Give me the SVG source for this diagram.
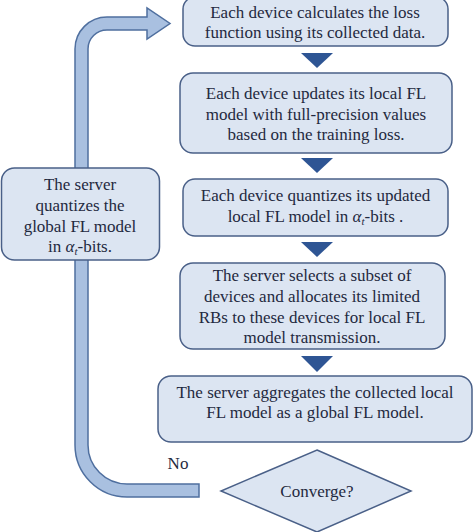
<svg xmlns="http://www.w3.org/2000/svg" width="474" height="532" viewBox="0 0 474 532">
<style>
.box{fill:#dce5f2;stroke:#4a6088;stroke-width:1.5}
.tri{fill:#2e5594}
.t{font-family:"Liberation Serif","DejaVu Serif",serif;font-size:17px;fill:#1f2940;text-anchor:middle}
.loop{fill:#a9c0e0;stroke:#4f6f9f;stroke-width:1.5}
</style>
<rect width="474" height="532" fill="#ffffff"/>
<g id="connectors">
<path class="loop" d="M199 484 L127 484 A39 39 0 0 1 88 445 L88 49 A19 19 0 0 1 107 30 L147 30 L147 39 L170 23.5 L147 8 L147 17 L107 17 A32 32 0 0 0 75 49 L75 445 A52 52 0 0 0 127 497 L199 497 Z"/>
<polygon class="tri" points="301,53 333,53 317,68"/>
<polygon class="tri" points="301,158 333,158 317,173"/>
<polygon class="tri" points="301,242 333,242 317,257"/>
<polygon class="tri" points="301,356 333,356 317,372"/>
<text class="t" x="178" y="469">No</text>
</g>
<g id="n1">
<rect class="box" x="183" y="-3" width="265" height="49" rx="12"/>
<text class="t" x="315" y="18">Each device calculates the loss</text>
<text class="t" x="315" y="38">function using its collected data.</text>
</g>
<g id="n2">
<rect class="box" x="180" y="73" width="272" height="80" rx="13"/>
<text class="t" x="316" y="99">Each device updates its local FL</text>
<text class="t" x="316" y="119.5">model with full-precision values</text>
<text class="t" x="316" y="140">based on the training loss.</text>
</g>
<g id="n3">
<rect class="box" x="183" y="179" width="265" height="57" rx="12"/>
<text class="t" x="315.5" y="201">Each device quantizes its updated</text>
<text class="t" x="315.5" y="222">local FL model in <tspan font-style="italic">α</tspan><tspan font-style="italic" font-size="11" dy="3">t</tspan><tspan dy="-3">-bits .</tspan></text>
</g>
<g id="n4">
<rect class="box" x="180" y="263" width="265" height="86" rx="13"/>
<text class="t" x="312" y="281">The server selects a subset of</text>
<text class="t" x="312" y="302">devices and allocates its limited</text>
<text class="t" x="312" y="322.5">RBs to these devices for local FL</text>
<text class="t" x="312" y="343">model transmission.</text>
</g>
<g id="n5">
<rect class="box" x="158" y="376" width="314" height="66" rx="13"/>
<text class="t" x="315" y="398">The server aggregates the collected local</text>
<text class="t" x="315" y="418">FL model as a global FL model.</text>
</g>
<g id="n6">
<polygon class="box" points="317,450 411,491 317,532 221,491"/>
<text class="t" x="317" y="497">Converge?</text>
</g>
<g id="n7">
<rect class="box" x="1.5" y="168" width="158" height="92" rx="13"/>
<text class="t" x="80" y="190">The server</text>
<text class="t" x="80" y="211">quantizes the</text>
<text class="t" x="80" y="231.5">global FL model</text>
<text class="t" x="80" y="252">in <tspan font-style="italic">α</tspan><tspan font-style="italic" font-size="11" dy="3">t</tspan><tspan dy="-3">-bits.</tspan></text>
</g>
</svg>
